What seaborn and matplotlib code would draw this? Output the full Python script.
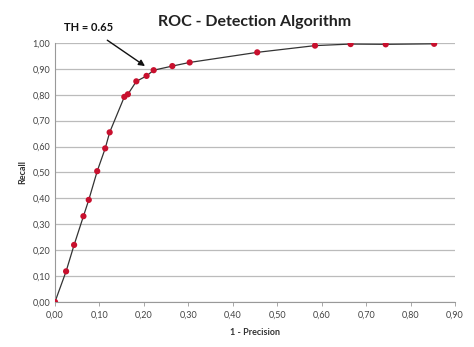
import numpy as np
import pandas as pd
import matplotlib
matplotlib.use("Agg")
import matplotlib.pyplot as plt
import seaborn as sns
from matplotlib.ticker import FuncFormatter, MultipleLocator

# values
one_minus_precision = [0.000, 0.025, 0.043, 0.064, 0.076, 0.095, 0.113, 0.123,
                       0.156, 0.164, 0.183, 0.206, 0.222, 0.264, 0.303, 0.455,
                       0.585, 0.665, 0.744, 0.853]
recall = [0.000, 0.118, 0.220, 0.331, 0.394, 0.505, 0.593, 0.655,
          0.792, 0.802, 0.852, 0.873, 0.895, 0.911, 0.925, 0.964,
          0.990, 0.996, 0.995, 0.997]

df = pd.DataFrame({"fpr": one_minus_precision, "recall": recall})

sns.set_theme(style="white")
plt.rcParams['font.family'] = ['Lato', 'DejaVu Sans']

fig = plt.figure(figsize=(4.74, 3.47), dpi=100)
ax = fig.add_axes([0.116, 0.130, 0.844, 0.746])

sns.lineplot(data=df, x="fpr", y="recall", ax=ax, color="#333333", linewidth=0.9,
             sort=False, zorder=2)
sns.scatterplot(data=df, x="fpr", y="recall", ax=ax, color="#c8102e", s=20,
                edgecolor="none", zorder=3)

ax.set_xlim(0, 0.9)
ax.set_ylim(0, 1.0)
ax.xaxis.set_major_locator(MultipleLocator(0.1))
ax.yaxis.set_major_locator(MultipleLocator(0.1))
comma = FuncFormatter(lambda v, p: f"{v:.2f}".replace(".", ","))
ax.xaxis.set_major_formatter(comma)
ax.yaxis.set_major_formatter(comma)
ax.tick_params(axis="both", labelsize=6.5, colors="#444444")
ax.tick_params(axis="x", length=3, width=0.6, color="#999999", direction="out", bottom=True)
ax.tick_params(axis="y", length=0)

ax.grid(axis="y", color="#bbbbbb", linewidth=0.9)
ax.grid(axis="x", visible=False)
for s in ["top", "right"]:
    ax.spines[s].set_visible(False)
for s in ["left", "bottom"]:
    ax.spines[s].set_color("#999999")
    ax.spines[s].set_linewidth(0.8)

ax.set_xlabel("1 - Precision", fontsize=6.5, fontweight="bold", color="#333333", labelpad=6)
ax.set_ylabel("Recall", fontsize=6.5, fontweight="bold", color="#333333", labelpad=4)
ax.set_title("ROC - Detection Algorithm", fontsize=11.5, fontweight="bold", color="#222222", pad=12)

ax.annotate("TH = 0.65", xy=(0.2025, 0.911), xytext=(0.076, 1.06),
            fontsize=8, fontweight="bold", color="#111111", ha="center", va="center",
            annotation_clip=False,
            arrowprops=dict(arrowstyle="-|>", color="#111111", lw=1.0,
                            mutation_scale=9, shrinkA=5, shrinkB=0))

fig.savefig("out.png", dpi=100, facecolor="white")
